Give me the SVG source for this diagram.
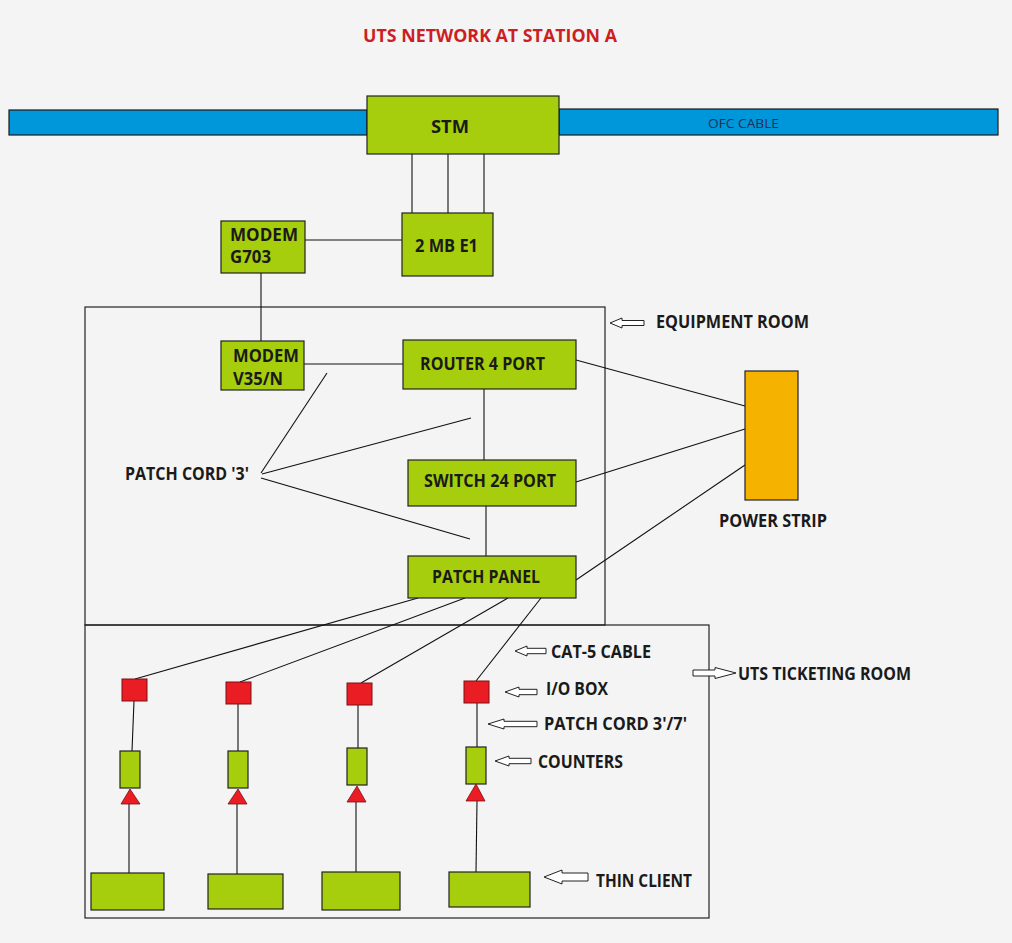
<svg xmlns="http://www.w3.org/2000/svg" width="1012" height="943" viewBox="0 0 1012 943">
<style>
.bg{fill:#f4f4f4}
.room{fill:none;stroke:#222;stroke-width:1.2}
.box{fill:#a6ce0c;stroke:#222;stroke-width:1.2}
.io{fill:#ea1c24;stroke:#7a1010;stroke-width:1}
.tri{fill:#ea1c24;stroke:#7a1010;stroke-width:0.8}
.cable{fill:#0096da;stroke:#1a1a1a;stroke-width:1.2}
.strip{fill:#f5b300;stroke:#222;stroke-width:1.2}
.ln{stroke:#111;stroke-width:1.1;fill:none}
.barrow{fill:#fff;stroke:#222;stroke-width:1}
.t{font-family:"Open Sans","Liberation Sans",sans-serif;font-weight:bold;font-size:17px;fill:#1a1a1a}
.title{font-family:"Open Sans","Liberation Sans",sans-serif;font-weight:bold;font-size:18.5px;fill:#cc1f24}
.ofc{font-family:"Open Sans","Liberation Sans",sans-serif;font-size:12.5px;fill:#1f3050}
</style>
<rect class="bg" x="0" y="0" width="1012" height="943"/>
<text class="title" x="363" y="42" textLength="254" lengthAdjust="spacingAndGlyphs">UTS NETWORK AT STATION A</text>

<g id="ofc-cable">
<rect class="cable" x="9" y="110" width="358" height="25"/>
<rect class="cable" x="559" y="109" width="439" height="26"/>
<text class="ofc" x="708" y="128" textLength="71" lengthAdjust="spacingAndGlyphs">OFC CABLE</text>
</g>

<g id="equipment-room">
<rect class="room" x="85" y="307" width="520" height="318"/>
</g>
<g id="ticketing-room">
<rect class="room" x="85" y="625" width="624" height="293"/>
</g>

<g id="connectors">
<line class="ln" x1="412" y1="154" x2="412" y2="213"/>
<line class="ln" x1="448" y1="154" x2="448" y2="213"/>
<line class="ln" x1="484" y1="154" x2="484" y2="213"/>
<line class="ln" x1="305" y1="240" x2="402" y2="240"/>
<line class="ln" x1="261" y1="273" x2="261" y2="341"/>
<line class="ln" x1="304" y1="364" x2="403" y2="364"/>
<line class="ln" x1="484" y1="389" x2="484" y2="460"/>
<line class="ln" x1="486" y1="506" x2="486" y2="556"/>
<line class="ln" x1="576" y1="360" x2="745" y2="406"/>
<line class="ln" x1="576" y1="482" x2="745" y2="429"/>
<line class="ln" x1="576" y1="580" x2="745" y2="465"/>
<line class="ln" x1="261" y1="473" x2="327" y2="373"/>
<line class="ln" x1="262" y1="474" x2="471" y2="418"/>
<line class="ln" x1="261" y1="478" x2="470" y2="539"/>
<line class="ln" x1="418" y1="598" x2="135" y2="679"/>
<line class="ln" x1="465" y1="598" x2="240" y2="682"/>
<line class="ln" x1="508" y1="598" x2="361" y2="683"/>
<line class="ln" x1="541" y1="598" x2="476" y2="681"/>
<line class="ln" x1="134" y1="701" x2="132" y2="751"/>
<line class="ln" x1="238" y1="704" x2="238" y2="751"/>
<line class="ln" x1="358" y1="705" x2="358" y2="748"/>
<line class="ln" x1="477" y1="703" x2="477" y2="747"/>
<line class="ln" x1="129" y1="804" x2="129" y2="873"/>
<line class="ln" x1="237" y1="804" x2="237" y2="874"/>
<line class="ln" x1="356" y1="802" x2="356" y2="872"/>
<line class="ln" x1="477" y1="801" x2="476" y2="872"/>
</g>

<g id="stm">
<rect class="box" x="367" y="96" width="192" height="58"/>
<text class="t" x="431" y="133" textLength="38" lengthAdjust="spacingAndGlyphs">STM</text>
</g>
<g id="e1">
<rect class="box" x="402" y="213" width="91" height="63"/>
<text class="t" x="415" y="252" textLength="63" lengthAdjust="spacingAndGlyphs">2 MB E1</text>
</g>
<g id="modem-g703">
<rect class="box" x="221" y="221" width="84" height="52"/>
<text class="t" x="230" y="241" textLength="68" lengthAdjust="spacingAndGlyphs">MODEM</text>
<text class="t" x="230" y="263" textLength="41" lengthAdjust="spacingAndGlyphs">G703</text>
</g>
<g id="modem-v35">
<rect class="box" x="221" y="341" width="83" height="49"/>
<text class="t" x="233" y="362" textLength="66" lengthAdjust="spacingAndGlyphs">MODEM</text>
<text class="t" x="233" y="385" textLength="50" lengthAdjust="spacingAndGlyphs">V35/N</text>
</g>
<g id="router">
<rect class="box" x="403" y="340" width="173" height="49"/>
<text class="t" x="420" y="370" textLength="125" lengthAdjust="spacingAndGlyphs">ROUTER 4 PORT</text>
</g>
<g id="switch">
<rect class="box" x="408" y="460" width="168" height="46"/>
<text class="t" x="424" y="487" textLength="132" lengthAdjust="spacingAndGlyphs">SWITCH 24 PORT</text>
</g>
<g id="patch-panel">
<rect class="box" x="408" y="556" width="168" height="42"/>
<text class="t" x="432" y="583" textLength="108" lengthAdjust="spacingAndGlyphs">PATCH PANEL</text>
</g>
<g id="patch-cord-label">
<text class="t" x="125" y="480" textLength="124" lengthAdjust="spacingAndGlyphs">PATCH CORD '3'</text>
</g>
<g id="power-strip">
<rect class="strip" x="745" y="371" width="53" height="129"/>
<text class="t" x="719" y="527" textLength="108" lengthAdjust="spacingAndGlyphs">POWER STRIP</text>
</g>

<g id="io-boxes">
<rect class="io" x="122" y="679" width="25" height="22"/>
<rect class="io" x="226" y="682" width="25" height="22"/>
<rect class="io" x="347" y="683" width="25" height="22"/>
<rect class="io" x="464" y="681" width="25" height="22"/>
</g>
<g id="counters">
<rect class="box" x="120" y="751" width="20" height="37"/>
<rect class="box" x="228" y="751" width="20" height="37"/>
<rect class="box" x="347" y="748" width="20" height="37"/>
<rect class="box" x="466" y="747" width="20" height="37"/>
</g>
<g id="triangles">
<polygon class="tri" points="130,789 140,804 121,804"/>
<polygon class="tri" points="238,789 247,804 228,804"/>
<polygon class="tri" points="357,786 366,802 347,802"/>
<polygon class="tri" points="476,784 485,801 466,801"/>
</g>
<g id="thin-clients">
<rect class="box" x="91" y="873" width="73" height="37"/>
<rect class="box" x="208" y="874" width="75" height="35"/>
<rect class="box" x="322" y="872" width="78" height="38"/>
<rect class="box" x="449" y="872" width="81" height="35"/>
</g>

<g id="labels">
<path class="barrow" d="M610,323 L622,318 L622,320.5 L644,320.5 L644,325.5 L622,325.5 L622,328 Z"/>
<text class="t" x="656" y="328" textLength="153" lengthAdjust="spacingAndGlyphs">EQUIPMENT ROOM</text>
<path class="barrow" d="M515,651 L527,646 L527,648.3 L546,648.3 L546,653.7 L527,653.7 L527,656 Z"/>
<text class="t" x="551" y="658" textLength="100" lengthAdjust="spacingAndGlyphs">CAT-5 CABLE</text>
<path class="barrow" d="M505,692 L519,687 L519,689.3 L537,689.3 L537,694.7 L519,694.7 L519,697 Z"/>
<text class="t" x="546" y="695" textLength="62" lengthAdjust="spacingAndGlyphs">I/O BOX</text>
<path class="barrow" d="M488,724 L504,719 L504,721.3 L537,721.3 L537,726.7 L504,726.7 L504,729 Z"/>
<text class="t" x="544" y="730" textLength="143" lengthAdjust="spacingAndGlyphs">PATCH CORD 3'/7'</text>
<path class="barrow" d="M495,761 L509,756 L509,758.3 L531,758.3 L531,763.7 L509,763.7 L509,766 Z"/>
<text class="t" x="538" y="768" textLength="85" lengthAdjust="spacingAndGlyphs">COUNTERS</text>
<path class="barrow" d="M544,877 L562,870 L562,873 L588,873 L588,881 L562,881 L562,884 Z"/>
<text class="t" x="596" y="887" textLength="96" lengthAdjust="spacingAndGlyphs">THIN CLIENT</text>
<path class="barrow" d="M736,673 L715,667.5 L715,670 L693,670 L693,676 L715,676 L715,678.5 Z"/>
<text class="t" x="738" y="680" textLength="173" lengthAdjust="spacingAndGlyphs">UTS TICKETING ROOM</text>
</g>
</svg>
